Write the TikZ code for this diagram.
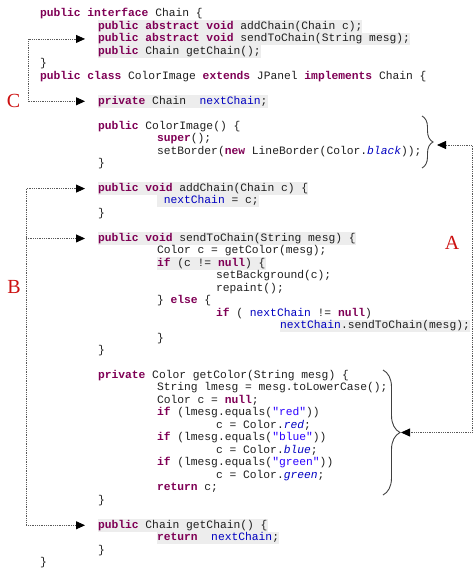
\documentclass[tikz,border=0pt]{standalone}
\usepackage{fontspec}
\setmonofont{Liberation Mono}
\newfontfamily\labelfont{Liberation Serif}
\usetikzlibrary{positioning, arrows.meta, decorations.pathreplacing}
\definecolor{kwcol}{HTML}{7F0055}
\definecolor{fieldcol}{HTML}{0000C0}
\definecolor{strcol}{HTML}{2A00FF}
\definecolor{txtcol}{HTML}{1E1E1E}
\definecolor{hlcol}{HTML}{EDEDED}
\definecolor{lblcol}{HTML}{CC1010}
\newcommand{\kw}[1]{\textcolor{kwcol}{\bfseries #1}}
\newcommand{\fld}[1]{\textcolor{fieldcol}{#1}}
\newcommand{\strg}[1]{\textcolor{strcol}{#1}}
\newcommand{\cst}[1]{\textcolor{fieldcol}{\itshape #1}}
\tikzset{
x=1pt, y=-1pt, % one unit is one pixel of the listing, y runs downwards
node distance=0pt, % lines of code sit right under each other
code/.style={font=\ttfamily\fontsize{11.3}{12}\selectfont, text=txtcol, anchor=north west,
  inner xsep=0pt, inner ysep=0pt, outer sep=0pt, minimum height=12.47pt, text height=8.3pt, text depth=2.6pt},
hl/.style={fill=hlcol}, % highlighted line
link/.style={densely dotted, line width=0.8pt, gray!70!black,
  >={Triangle[length=9pt,width=8pt,color=black]}}, % dotted connector
curly/.style={decorate, decoration={brace, amplitude=#1}, line width=0.9pt, black!75},
lbl/.style={font=\labelfont\fontsize{20}{20}\selectfont, text=lblcol, inner sep=0pt},
}

\begin{document}
\begin{tikzpicture}
    \useasboundingbox (0,0) rectangle (474,573);
    % tab stops
    \coordinate (t0) at (40,0);
    \coordinate (t1) at (98,0);
    \coordinate (t2) at (157,0);
    \coordinate (t3) at (216,0);
    \coordinate (t4) at (280,0);

    % interface
    \node[code] (l0) at (40,7.77) {\kw{public} \kw{interface} Chain \{};
    \node[below=of t1 |- l0.south, code, hl] (l1) {\kw{public} \kw{abstract} \kw{void} addChain(Chain c);};
    \node[below=of t1 |- l1.south, code, hl] (l2) {\kw{public} \kw{abstract} \kw{void} sendToChain(String mesg);};
    \node[below=of t1 |- l2.south, code, hl] (l3) {\kw{public} Chain getChain();};
    \node[below=of t0 |- l3.south, code] (l4) {\}};

    % class
    \node[below=of t0 |- l4.south, code] (l5) {\kw{public} \kw{class} ColorImage \kw{extends} JPanel \kw{implements} Chain \{};
    \node[below=12.47pt of t1 |- l5.south, code, hl] (l7) {\kw{private} Chain~~\fld{nextChain};};

    \node[below=12.47pt of t1 |- l7.south, code] (l9) {\kw{public} ColorImage() \{};
    \node[below=of t2 |- l9.south, code] (l10) {\kw{super}();};
    \node[below=of t2 |- l10.south, code] (l11) {setBorder(\kw{new} LineBorder(Color.\cst{black}));};
    \node[below=of t1 |- l11.south, code] (l12) {\}};

    \node[below=12.47pt of t1 |- l12.south, code, hl] (l14) {\kw{public} \kw{void} addChain(Chain c) \{};
    \node[below=of t2 |- l14.south, code, hl] (l15) {~\fld{nextChain} = c;};
    \node[below=of t1 |- l15.south, code] (l16) {\}};

    \node[below=12.47pt of t1 |- l16.south, code, hl] (l18) {\kw{public} \kw{void} sendToChain(String mesg) \{};
    \node[below=of t2 |- l18.south, code] (l19) {Color c = getColor(mesg);};
    \node[below=of t2 |- l19.south, code, hl] (l20) {\kw{if} (c != \kw{null}) \{};
    \node[below=of t3 |- l20.south, code] (l21) {setBackground(c);};
    \node[below=of t3 |- l21.south, code] (l22) {repaint();};
    \node[below=of t2 |- l22.south, code] (l23) {\} \kw{else} \{};
    \node[below=of t3 |- l23.south, code] (l24) {\kw{if} ( \fld{nextChain} != \kw{null})};
    \node[below=of t4 |- l24.south, code, hl] (l25) {\fld{nextChain}.sendToChain(mesg);};
    \node[below=of t2 |- l25.south, code] (l26) {\}};
    \node[below=of t1 |- l26.south, code] (l27) {\}};

    \node[below=12.47pt of t1 |- l27.south, code] (l29) {\kw{private} Color getColor(String mesg) \{};
    \node[below=of t2 |- l29.south, code] (l30) {String lmesg = mesg.toLowerCase();};
    \node[below=of t2 |- l30.south, code] (l31) {Color c = \kw{null};};
    \node[below=of t2 |- l31.south, code] (l32) {\kw{if} (lmesg.equals(\strg{"red"}))};
    \node[below=of t3 |- l32.south, code] (l33) {c = Color.\cst{red};};
    \node[below=of t2 |- l33.south, code] (l34) {\kw{if} (lmesg.equals(\strg{"blue"}))};
    \node[below=of t3 |- l34.south, code] (l35) {c = Color.\cst{blue};};
    \node[below=of t2 |- l35.south, code] (l36) {\kw{if} (lmesg.equals(\strg{"green"}))};
    \node[below=of t3 |- l36.south, code] (l37) {c = Color.\cst{green};};
    \node[below=of t2 |- l37.south, code] (l38) {\kw{return} c;};
    \node[below=of t1 |- l38.south, code] (l39) {\}};

    \node[below=12.47pt of t1 |- l39.south, code, hl] (l41) {\kw{public} Chain getChain() \{};
    \node[below=of t2 |- l41.south, code, hl] (l42) {\kw{return}~~\fld{nextChain};};
    \node[below=of t1 |- l42.south, code] (l43) {\}};
    \node[below=of t0 |- l43.south, code] (l44) {\}};

    % braces and the A link between them
    \draw[curly=11pt] (422,116) -- (422,168);
    \draw[curly=17pt] (383,370) -- (383,495);
    \coordinate (aUp) at (437,145);
    \coordinate (aDown) at (401,432.5);
    \coordinate (aRight) at (472,0);
    \draw[link,<->] (aUp) -- (aRight |- aUp) |- (aDown);

    % C link
    \draw[link,<->] ([xshift=-13pt]l2.west) -- ++(-57,0) |- ([xshift=-13pt]l7.west);

    % B link
    \coordinate (bx) at (26,0);
    \draw[link,<->] ([xshift=-13pt]l14.west) -- (bx |- l14.west) |- ([xshift=-13pt]l41.west);
    \draw[link,->] (bx |- l18.west) -- ([xshift=-13pt]l18.west);

    \node[lbl] (A) at (452,243) {A};
    \node[lbl] (B) at (14,287) {B};
    \node[lbl] (C) at (13.5,100.5) {C};
\end{tikzpicture}
\end{document}
